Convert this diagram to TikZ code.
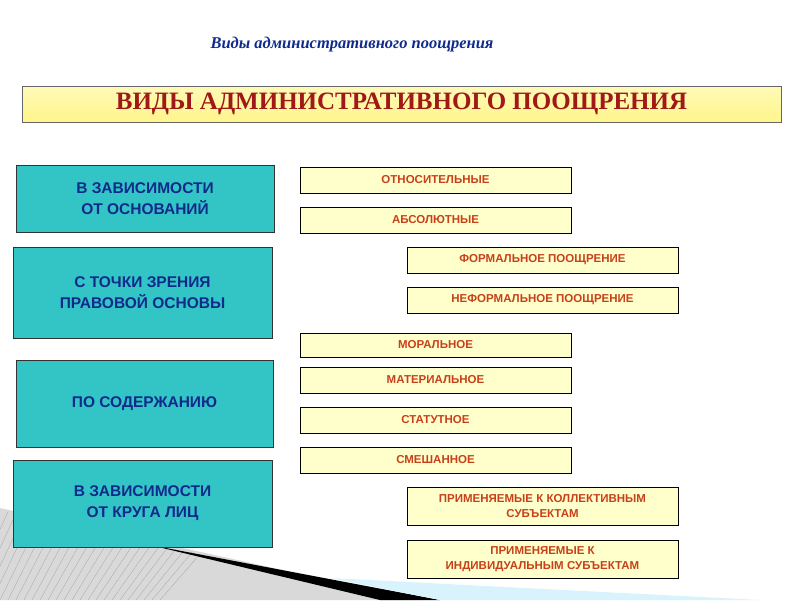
\documentclass[tikz,border=0pt]{standalone}
\usepackage{fontspec}
\setmainfont{Liberation Serif}
\setsansfont{Liberation Sans}
\definecolor{tealbox}{HTML}{33C5C5}
\definecolor{navytext}{HTML}{102A8C}
\definecolor{paleyellow}{HTML}{FFFFCC}
\definecolor{banneryellow}{HTML}{FFF68A}
\definecolor{redtext}{HTML}{C8401A}
\definecolor{darkred}{HTML}{A01818}
\tikzset{
  leftbox/.style={draw=black!80, fill=tealbox, text=navytext, font=\sffamily\bfseries\fontsize{15.5}{21}\selectfont, align=center, inner sep=0pt},
  rightbox/.style={draw=black, fill=paleyellow, text=redtext, font=\sffamily\bfseries\fontsize{11.5}{15}\selectfont, align=center, inner sep=0pt, minimum width=271pt, minimum height=26pt},
}
\begin{document}
\begin{tikzpicture}[x=1pt,y=-1pt]
  \useasboundingbox (0,0) rectangle (800,600);
  % decoration in the lower left corner
  \fill[black!15] (0,508) -- (420,600) -- (0,600) -- cycle;
  \foreach \i in {0,8,...,200}
    \draw[black!40, very thin] (\i,510+\i*0.22) -- (\i-40,600);
  \fill[black] (150,545) -- (440,600) -- (380,600) -- cycle;
  \fill[cyan!15] (330,578) -- (760,600) -- (440,600) -- cycle;
  % title
  \node[font=\bfseries\itshape\fontsize{16.5}{19}\selectfont, text=navytext] (title) at (352,45) {Виды административного поощрения};
  \node[draw=black!60, top color=banneryellow!60, bottom color=banneryellow, minimum width=759pt, minimum height=36pt, font=\bfseries\fontsize{25}{28}\selectfont, text=darkred] (banner) at (401.5,104) {ВИДЫ АДМИНИСТРАТИВНОГО ПООЩРЕНИЯ};
  % left column
  \node[leftbox, minimum width=258pt, minimum height=67pt] (basis) at (145,198.5) {В ЗАВИСИМОСТИ\\ ОТ ОСНОВАНИЙ};
  \node[leftbox, minimum width=259pt, minimum height=91pt] (legal) at (142.5,292.5) {С ТОЧКИ ЗРЕНИЯ\\ПРАВОВОЙ ОСНОВЫ};
  \node[leftbox, minimum width=257pt, minimum height=87pt] (content) at (144.5,403.5) {ПО СОДЕРЖАНИЮ};
  \node[leftbox, minimum width=259pt, minimum height=87pt] (persons) at (142.5,503.5) {В ЗАВИСИМОСТИ\\ ОТ КРУГА ЛИЦ};
  % right column
  \node[rightbox] (relative) at (435.5,180) {ОТНОСИТЕЛЬНЫЕ};
  \node[rightbox] (absolute) at (435.5,220) {АБСОЛЮТНЫЕ};
  \node[rightbox] (formal) at (542.5,260) {ФОРМАЛЬНОЕ ПООЩРЕНИЕ};
  \node[rightbox] (informal) at (542.5,300) {НЕФОРМАЛЬНОЕ ПООЩРЕНИЕ};
  \node[rightbox, minimum height=24pt] (moral) at (435.5,345) {МОРАЛЬНОЕ};
  \node[rightbox] (material) at (435.5,380) {МАТЕРИАЛЬНОЕ};
  \node[rightbox] (statute) at (435.5,420) {СТАТУТНОЕ};
  \node[rightbox] (mixed) at (435.5,460) {СМЕШАННОЕ};
  \node[rightbox, minimum height=38pt] (collective) at (542.5,506) {ПРИМЕНЯЕМЫЕ К КОЛЛЕКТИВНЫМ\\СУБЪЕКТАМ};
  \node[rightbox, minimum height=38pt] (individual) at (542.5,559) {ПРИМЕНЯЕМЫЕ К\\ИНДИВИДУАЛЬНЫМ СУБЪЕКТАМ};
\end{tikzpicture}
\end{document}
